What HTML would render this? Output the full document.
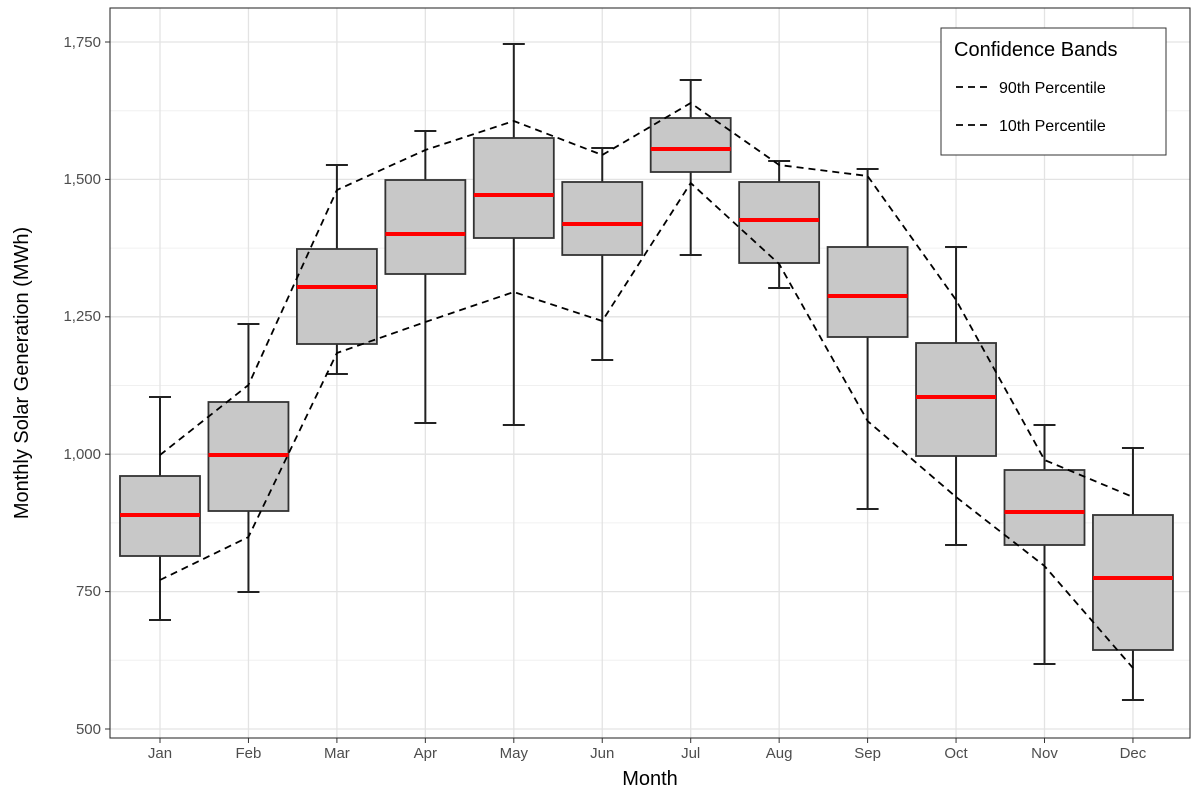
<!DOCTYPE html>
<html><head><meta charset="utf-8"><style>
body{margin:0;background:#fff;}
svg text{font-family:"Liberation Sans",Arial,sans-serif;}
</style></head><body>
<svg width="1200" height="800" xmlns="http://www.w3.org/2000/svg">
<rect width="1200" height="800" fill="#fff"/>
<g id="grid"></g>
<g id="main"></g>
<rect x="110" y="8" width="1080" height="730" fill="none" stroke="#333" stroke-width="1.1"/>
<g font-size="15" fill="#4d4d4d" text-anchor="end">
<text x="101" y="47">1,750</text>
<text x="101" y="184">1,500</text>
<text x="101" y="321">1,250</text>
<text x="101" y="459">1,000</text>
<text x="101" y="596">750</text>
<text x="101" y="734">500</text>
</g>
<text x="650" y="785" font-size="20" text-anchor="middle" fill="#000">Month</text>
<text transform="translate(28,373) rotate(-90)" font-size="20" text-anchor="middle" fill="#000">Monthly Solar Generation (MWh)</text>
<rect x="941" y="28" width="225" height="127" fill="#fff" stroke="#333" stroke-width="1"/>
<text x="954" y="56" font-size="20" fill="#000">Confidence Bands</text>
<line x1="956" y1="87" x2="988" y2="87" stroke="#000" stroke-width="1.8" stroke-dasharray="7,5"/>
<text x="999" y="93" font-size="16" fill="#000">90th Percentile</text>
<line x1="956" y1="125" x2="988" y2="125" stroke="#000" stroke-width="1.8" stroke-dasharray="7,5"/>
<text x="999" y="131" font-size="16" fill="#000">10th Percentile</text>
</svg>
<script>
const ns="http://www.w3.org/2000/svg";
function el(p,t,a,txt){const e=document.createElementNS(ns,t);for(const k in a)e.setAttribute(k,a[k]);if(txt)e.textContent=txt;p.appendChild(e);return e;}
const g=document.getElementById('grid'),m=document.getElementById('main');
const yv=v=>729-(v-500)*137.4/250;
for(let v=625;v<1750;v+=250)el(g,'line',{x1:110,x2:1190,y1:yv(v),y2:yv(v),stroke:'#f0f0f0','stroke-width':1});
for(let v=500;v<=1750;v+=250)el(g,'line',{x1:110,x2:1190,y1:yv(v),y2:yv(v),stroke:'#e3e3e3','stroke-width':1.3});
const months=['Jan','Feb','Mar','Apr','May','Jun','Jul','Aug','Sep','Oct','Nov','Dec'];
const X=i=>160+i*88.45;
months.forEach((mo,i)=>{el(g,'line',{x1:X(i),x2:X(i),y1:8,y2:738,stroke:'#e3e3e3','stroke-width':1.3});
el(m,'line',{x1:X(i),x2:X(i),y1:738,y2:743,stroke:'#333'});
el(m,'text',{x:X(i),y:758,'font-size':15,fill:'#4d4d4d','text-anchor':'middle'},mo);});
for(let v=500;v<=1750;v+=250)el(m,'line',{x1:105,x2:110,y1:yv(v),y2:yv(v),stroke:'#333'});
const d=[[397,620,476,556,515],[324,592,402,511,455],[165,374,249,344,287],[131,423,180,274,234],[44,425,138,238,195],[148,360,182,255,224],[80,255,118,172,149],[161,288,182,263,220],[169,509,247,337,296],[247,545,343,456,397],[425,664,470,545,512],[448,700,515,650,578]];
d.forEach((r,i)=>{const x=X(i);
el(m,'line',{x1:x,x2:x,y1:r[0],y2:r[1],stroke:'#222','stroke-width':2});
el(m,'line',{x1:x-11,x2:x+11,y1:r[0],y2:r[0],stroke:'#222','stroke-width':2});
el(m,'line',{x1:x-11,x2:x+11,y1:r[1],y2:r[1],stroke:'#222','stroke-width':2});
el(m,'rect',{x:x-40,y:r[2],width:80,height:r[3]-r[2],fill:'#c8c8c8',stroke:'#333','stroke-width':1.8});
el(m,'line',{x1:x-40,x2:x+40,y1:r[4],y2:r[4],stroke:'#ff0000','stroke-width':4});});
const hi=[455,385,190,150,121,155,103,165,176,300,460,497],lo=[580,537,353,322,292,321,183,264,421,497,566,668];
[hi,lo].forEach(a=>el(m,'polyline',{points:a.map((y,i)=>X(i)+','+y).join(' '),fill:'none',stroke:'#000','stroke-width':1.8,'stroke-dasharray':'7,5'}));
</script>
</body></html>
